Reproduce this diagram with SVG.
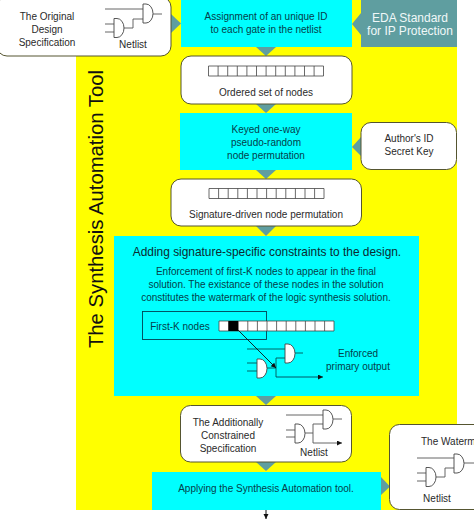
<svg xmlns="http://www.w3.org/2000/svg" width="474" height="519" viewBox="0 0 474 519">
<defs>
<marker id="ah" markerWidth="6" markerHeight="6" refX="5" refY="2.5" orient="auto" markerUnits="userSpaceOnUse"><path d="M0,0L5,2.500L0,5z" fill="#111"/></marker>
<g id="cells"><path class="cell" d="M0,0h115v10h-115zM9.600,0v10M19.200,0v10M28.800,0v10M38.400,0v10M48,0v10M57.600,0v10M67.200,0v10M76.800,0v10M86.400,0v10M96,0v10M105.600,0v10"/></g>
<path id="and" class="gate" d="M0,0h3a7,9.500 0 0 1 0,19h-3z"/>
</defs>
<style>
text{font-family:"Liberation Sans",Arial,sans-serif;font-size:10px;fill:#2a2a2a;text-anchor:middle}
.teal{fill:#5f9ea0}
.cy{fill:#00ffff}
.box{fill:#fff;stroke:#555530;stroke-width:1}
.cell{fill:#fff;stroke:#444;stroke-width:.8}
.gate{fill:#fff;stroke:#444;stroke-width:.9}
.w{fill:none;stroke:#555;stroke-width:.9}
.wd{fill:none;stroke:#055;stroke-width:.9}
.cyt{fill:#05404a}
</style>
<rect x="76" y="0" width="381" height="510" fill="#ffff00"/>
<text transform="translate(103,209) rotate(-90)" style="font-size:20.300px;fill:#111">The Synthesis Automation Tool</text>

<g id="connectors">
<path class="teal" d="M171,14L181,23.500L171,33z"/>
<path class="teal" d="M361,13L352,24L361,35z"/>
<path class="teal" d="M256,47h20l-10,9z"/>
<path class="teal" d="M256,104h20l-10,9z"/>
<path class="teal" d="M361,137L352,147L361,156z"/>
<path class="teal" d="M256,170h20l-10,9z"/>
<path class="teal" d="M256,226h20l-10,10z"/>
<path class="teal" d="M256,396h20l-10,9z"/>
<path class="teal" d="M256,462h20l-10,9z"/>
<path class="teal" d="M381,477L390,486.500L381,495z"/>
<path d="M266,510V519" stroke="#111" stroke-width="1" fill="none" marker-end="url(#ah)"/>
</g>

<g id="n-original">
<rect class="box" x="-3" y="-3" width="174" height="59" rx="10"/>
<text x="47" y="20">The Original</text><text x="47" y="33">Design</text><text x="47" y="46">Specification</text>
<path class="w" d="M105,9H143M105,24H114M105,32H114M124,28H133V19H143M153,14H162"/>
<use href="#and" x="114" y="18.500"/><use href="#and" x="143" y="4"/>
<text x="133" y="48">Netlist</text>
</g>

<g id="n-assign">
<rect class="cy" x="181" y="0" width="171" height="47"/>
<text class="cyt" x="266" y="20">Assignment of an unique ID</text><text class="cyt" x="266" y="33">to each gate in the netlist</text>
</g>

<g id="n-eda">
<rect class="teal" x="361" y="0" width="96" height="47"/>
<text x="410" y="22" style="font-size:12px;fill:#f0f8f8">EDA Standard</text><text x="410" y="35" style="font-size:12px;fill:#f0f8f8">for IP Protection</text>
</g>

<g id="n-ordered">
<rect class="box" x="181" y="56" width="171" height="48" rx="10"/>
<use href="#cells" x="208.500" y="66"/>
<text x="266" y="96">Ordered set of nodes</text>
</g>

<g id="n-keyed">
<rect class="cy" x="180" y="113" width="172" height="57"/>
<text class="cyt" x="266" y="133">Keyed one-way</text><text class="cyt" x="266" y="146">pseudo-random</text><text class="cyt" x="266" y="159">node permutation</text>
</g>

<g id="n-author">
<rect class="box" x="361" y="122.500" width="95.500" height="47" rx="10"/>
<text x="409" y="142">Author's ID</text><text x="409" y="155">Secret Key</text>
</g>

<g id="n-signature">
<rect class="box" x="171" y="179" width="190.500" height="47" rx="10"/>
<use href="#cells" x="209" y="188.500"/>
<text x="266" y="218">Signature-driven node permutation</text>
</g>

<g id="n-adding">
<rect class="cy" x="114" y="236" width="305" height="160"/>
<text x="267" y="256" style="font-size:11.900px;fill:#0b2a30">Adding signature-specific constraints to the design.</text>
<text class="cyt" x="266" y="275">Enforcement of first-K nodes to appear in the final</text>
<text class="cyt" x="266" y="288">solution. The existance of these nodes in the solution</text>
<text class="cyt" x="266" y="301">constitutes the watermark of the logic synthesis solution.</text>
<rect x="142.500" y="311.500" width="124" height="28" fill="none" stroke="#045" stroke-width=".9"/>
<text x="180" y="330" class="cyt">First-K nodes</text>
<use href="#cells" x="219" y="321"/>
<rect x="228.500" y="321" width="9.600" height="10" fill="#000"/>
<path class="wd" d="M247,349H285M247,363H257M247,371H257M267,368H276M276,377V358H285M295,353H303"/>
<use href="#and" x="257" y="359"/><use href="#and" x="285" y="344"/>
<path d="M238,330L276,368" stroke="#111" stroke-width=".9" fill="none" marker-end="url(#ah)"/>
<path d="M276,377H323" stroke="#045" stroke-width=".9" fill="none" marker-end="url(#ah)"/>
<text class="cyt" x="358" y="357">Enforced</text><text class="cyt" x="358" y="370">primary output</text>
</g>

<g id="n-additional">
<rect class="box" x="180.500" y="405.500" width="171" height="56.500" rx="10"/>
<text x="228" y="426">The Additionally</text><text x="228" y="439">Constrained</text><text x="228" y="452">Specification</text>
<path class="w" d="M286,415H323M286,430H295M286,437H295M305,433H313M313,424H323M333,419H342M313,424V443"/>
<use href="#and" x="295" y="424"/><use href="#and" x="323" y="410"/>
<path d="M313,443H342" class="w" marker-end="url(#ah)"/>
<text x="314" y="456">Netlist</text>
</g>

<g id="n-apply">
<rect class="cy" x="152" y="472" width="229" height="38"/>
<text class="cyt" x="266" y="492">Applying the Synthesis Automation tool.</text>
</g>

<g id="n-watermarked">
<rect class="box" x="389.500" y="424.500" width="100" height="85" rx="10"/>
<text x="421" y="445" style="text-anchor:start">The Waterm</text>
<path class="w" d="M417,458H454M417,473H426M417,481H426M436,477H445V468H454M464,463H474"/>
<use href="#and" x="426" y="467.500"/><use href="#and" x="454" y="454"/>
<text x="437" y="502">Netlist</text>
</g>
</svg>
